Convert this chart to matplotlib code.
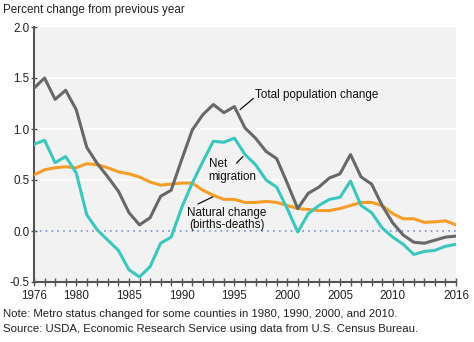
import numpy as np
import matplotlib
matplotlib.use("Agg")
import matplotlib.pyplot as plt

plt.rcParams['font.family'] = ['Liberation Sans', 'DejaVu Sans']

years = np.arange(1976, 2017)

total_change = [1.40, 1.50, 1.29, 1.38, 1.19, 0.82, 0.66, 0.53, 0.39, 0.18,
                0.06, 0.13, 0.34, 0.40, 0.70, 0.99, 1.14, 1.24, 1.16, 1.22,
                1.01, 0.91, 0.78, 0.71, 0.47, 0.22, 0.37, 0.43, 0.52, 0.56,
                0.75, 0.53, 0.46, 0.25, 0.08, -0.04, -0.11, -0.12, -0.09, -0.06,
                -0.05]
net_migration = [0.85, 0.89, 0.67, 0.73, 0.57, 0.16, 0.01, -0.09, -0.19, -0.38,
                 -0.45, -0.35, -0.12, -0.06, 0.23, 0.47, 0.68, 0.88, 0.87, 0.91,
                 0.75, 0.65, 0.50, 0.43, 0.22, -0.01, 0.17, 0.25, 0.31, 0.33,
                 0.49, 0.25, 0.18, 0.03, -0.06, -0.13, -0.23, -0.20, -0.19, -0.15,
                 -0.13]
natural_change = [0.55, 0.60, 0.62, 0.63, 0.62, 0.66, 0.65, 0.62, 0.58, 0.56,
                  0.53, 0.48, 0.45, 0.46, 0.47, 0.47, 0.40, 0.35, 0.31, 0.31,
                  0.28, 0.28, 0.29, 0.28, 0.25, 0.22, 0.21, 0.20, 0.20, 0.22,
                  0.25, 0.28, 0.28, 0.25, 0.17, 0.12, 0.12, 0.085, 0.09, 0.10,
                  0.06]

yticks = [-0.5, 0.0, 0.5, 1.0, 1.5, 2.0]
xlabels = [1976, 1980, 1985, 1990, 1995, 2000, 2005, 2010, 2016]

fig = plt.figure(figsize=(4.74, 3.42), dpi=100)
ax = fig.add_axes([34/474, 1 - 282/342, (456 - 34)/474, (282 - 27)/342])
ax.set_facecolor('#f2f2f2')

for y in [0.5, 1.0, 1.5]:
    ax.axhline(y, color='white', lw=1.2, zorder=1)
ax.axhline(0, color='#7b8fe0', lw=1.2, ls=(0, (1, 2.5)), zorder=2)

ax.plot(years, natural_change, color='#f59d26', lw=2.2, zorder=3)
ax.plot(years, net_migration, color='#3cc7be', lw=2.2, zorder=4)
ax.plot(years, total_change, color='#686868', lw=2.2, zorder=5)

ax.set_xlim(1976, 2016)
ax.set_ylim(-0.5, 2.0)
ax.set_yticks(yticks)
ax.set_yticklabels(['%.1f' % v for v in yticks])
ax.set_xticks(years, minor=True)
ax.set_xticks(xlabels)
ax.set_xticklabels([str(v) for v in xlabels])

for s in ['top', 'right']:
    ax.spines[s].set_visible(False)
for s in ['left', 'bottom']:
    ax.spines[s].set_color('#555555')
    ax.spines[s].set_linewidth(1.5)
ax.tick_params(axis='y', length=5, width=1, color='#555555', labelsize=8.4,
               direction='inout', pad=1, labelcolor='#222222')
ax.tick_params(axis='x', which='both', length=6, width=1, color='#555555',
               direction='inout', labelsize=8.4, pad=3, labelcolor='#222222')

# leader lines and labels
line_kw = dict(arrowstyle='-', color='#111111', lw=0.9, shrinkA=0, shrinkB=0)
ax.annotate('', xy=(1995.53, 1.19), xytext=(1996.8, 1.30), arrowprops=line_kw)
ax.text(1996.95, 1.335, 'Total population change', fontsize=8.4,
        va='center', ha='left', color='#111111')

ax.annotate('', xy=(1995.8, 0.73), xytext=(1995.2, 0.665), arrowprops=line_kw)
ax.text(1992.55, 0.595, 'Net\nmigration', fontsize=8.4, va='center',
        ha='left', color='#111111', linespacing=1.05)

ax.annotate('', xy=(1992.95, 0.335), xytext=(1991.55, 0.265), arrowprops=line_kw)
ax.text(1994.3, 0.12, 'Natural change\n(births-deaths)', fontsize=8.4,
        va='center', ha='center', color='#111111', linespacing=1.05)

fig.text(3/474, 1 - 10/342, 'Percent change from previous year', fontsize=8.4,
         va='center', ha='left', color='#222222')
fig.text(3/474, 1 - 314/342,
         'Note: Metro status changed for some counties in 1980, 1990, 2000, and 2010.',
         fontsize=8.2, va='center', ha='left', color='#222222')
fig.text(3/474, 1 - 329/342,
         'Source: USDA, Economic Research Service using data from U.S. Census Bureau.',
         fontsize=8.2, va='center', ha='left', color='#222222')

fig.savefig('out.png', dpi=100)
